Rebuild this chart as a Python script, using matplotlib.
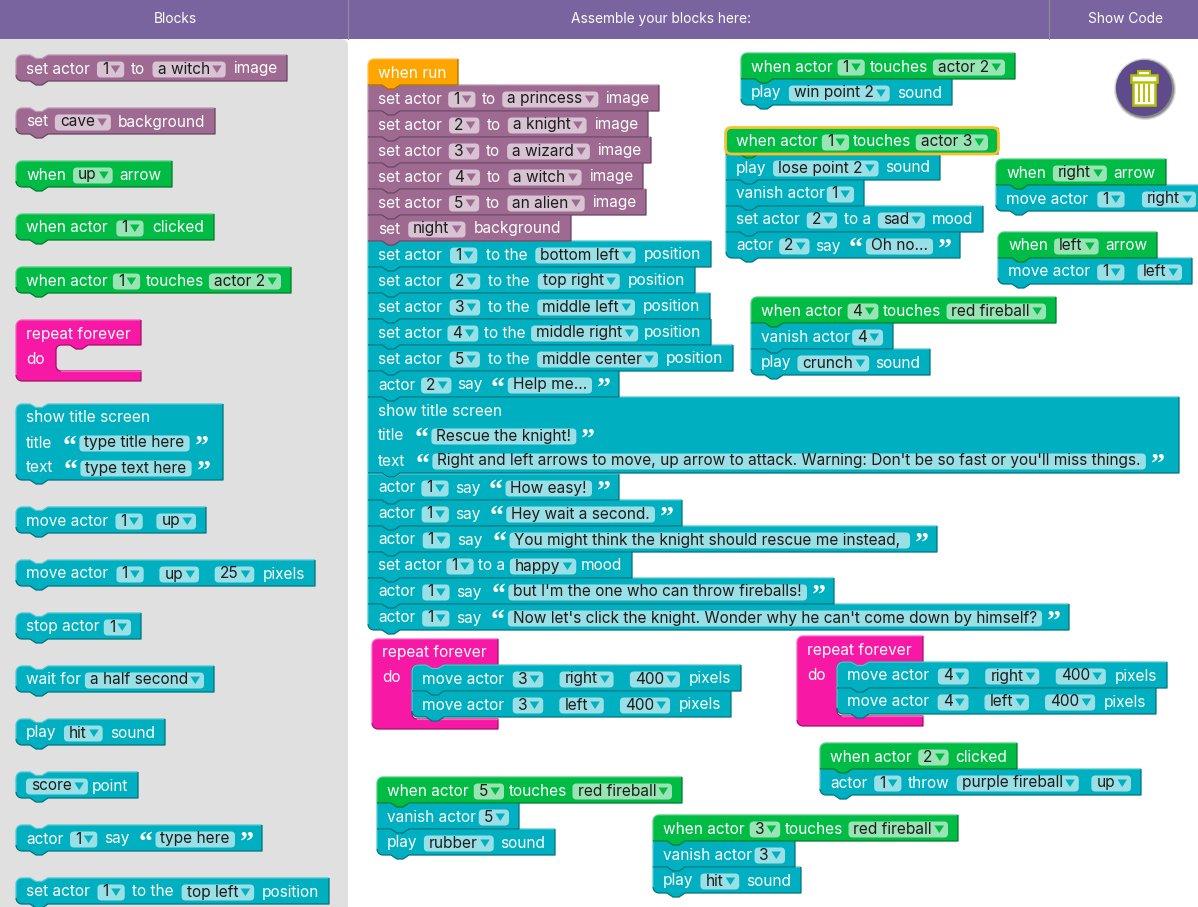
import re
import numpy as np
import matplotlib
matplotlib.use('Agg')
import matplotlib.pyplot as plt
from matplotlib.patches import Polygon, FancyBboxPatch, Circle, Rectangle
from matplotlib.colors import to_rgb

plt.rcParams['font.family'] = ['Inter', 'DejaVu Sans']

# Cores dos blocos
COLORS = {'looks': '#9e6a92', 'motion': '#00b0c0', 'event': '#00bb44',
          'start': '#ffa500', 'loop': '#f719a5'}
HEADER = '#7a649f'
SIDEBAR = '#e0e0e0'
FONT = 11.1

# Cabecalho
header_titles = ['Blocks', 'Assemble your blocks here:', 'Show Code']

# Paleta: {x} = dropdown, <x> = campo de texto
palette_labels = ['set actor {1} to {a witch} image', 'set {cave} background', 'when {up} arrow',
                  'when actor {1} clicked', 'when actor {1} touches {actor 2}']
palette_kinds = ['looks', 'looks', 'event', 'event', 'event']
palette_tops = [55, 108, 161, 214, 267]
palette_rights = [287, 215, 172, 214, 291]

palette2_labels = ['show title screen\ntitle “ <type title here> ”\ntext “ <type text here> ”',
                   'move actor {1} {up}', 'move actor {1} {up} {25} pixels', 'stop actor {1}',
                   'wait for {a half second}', 'play {hit} sound', '{score} point',
                   'actor {1} say “ <type here> ”', 'set actor {1} to the {top left} position']
palette2_tops = [404, 507, 560, 613, 666, 719, 772, 825, 878]
palette2_rights = [223, 206, 315, 141, 214, 165, 138, 262, 329]

# Pilha principal
main_labels = ['when run',
               'set actor {1} to {a princess} image', 'set actor {2} to {a knight} image',
               'set actor {3} to {a wizard} image', 'set actor {4} to {a witch} image',
               'set actor {5} to {an alien} image', 'set {night} background',
               'set actor {1} to the {bottom left} position', 'set actor {2} to the {top right} position',
               'set actor {3} to the {middle left} position', 'set actor {4} to the {middle right} position',
               'set actor {5} to the {middle center} position', 'actor {2} say “ <Help me...> ”',
               'show title screen\ntitle “ <Rescue the knight!> ”\n'
               "text “ <Right and left arrows to move, up arrow to attack. Warning: Don't be so fast or you'll miss things.> ”",
               'actor {1} say “ <How easy!> ”', 'actor {1} say “ <Hey wait a second.> ”',
               'actor {1} say “ <You might think the knight should rescue me instead,\u00a0> ”',
               'set actor {1} to a {happy} mood',
               "actor {1} say “ <but I'm the one who can throw fireballs!> ”",
               "actor {1} say “ <Now let's click the knight. Wonder why he can't come down by himself?> ”"]
main_kinds = ['start'] + ['looks'] * 6 + ['motion'] * 13
main_rights = [458, 659, 648, 651, 643, 646, 571, 711, 695, 710, 711, 733, 619, 1179,
               619, 682, 937, 632, 834, 1069]

# Pilhas pequenas
win_labels = ['when actor {1} touches {actor 2}', 'play {win point 2} sound']
win_rights = [1015, 952]
lose_labels = ['when actor {1} touches {actor 3}', 'play {lose point 2} sound', 'vanish actor {1}',
               'set actor {2} to a {sad} mood', 'actor {2} say “ <Oh no...> ”']
lose_rights = [998, 940, 864, 983, 960]
right_labels = ['when {right} arrow', 'move actor {1} {right}']
right_rights = [1166, 1206]
left_labels = ['when {left} arrow', 'move actor {1} {left}']
left_rights = [1157, 1192]
crunch_labels = ['when actor {4} touches {red fireball}', 'vanish actor {4}', 'play {crunch} sound']
crunch_rights = [1056, 893, 930]
throw_labels = ['when actor {2} clicked', 'actor {1} throw {purple fireball} {up}']
throw_rights = [1017, 1141]
rubber_labels = ['when actor {5} touches {red fireball}', 'vanish actor {5}', 'play {rubber} sound']
rubber_rights = [682, 519, 555]
hit_labels = ['when actor {3} touches {red fireball}', 'vanish actor {3}', 'play {hit} sound']
hit_rights = [958, 795, 801]
loop3_labels = ['move actor {3} {right} {400} pixels', 'move actor {3} {left} {400} pixels']
loop3_rights = [741, 731]
loop4_labels = ['move actor {4} {right} {400} pixels', 'move actor {4} {left} {400} pixels']
loop4_rights = [1167, 1156]

fig = plt.figure(figsize=(11.98, 9.07), dpi=100)
ax = fig.add_axes([0, 0, 1, 1])
ax.set_xlim(0, 1198)
ax.set_ylim(907, 0)
ax.axis('off')
renderer = fig.canvas.get_renderer()


def mix(color, other, t):
    c = np.array(to_rgb(color))
    return tuple(c + (np.array(to_rgb(other)) - c) * t)


def arc(cx, cy, r, a0, a1):
    t = np.deg2rad(np.linspace(a0, a1, 7))
    return list(zip(cx + r * np.cos(t), cy + r * np.sin(t)))


def text_w(s):
    t = ax.text(0, 0, s, fontsize=FONT)
    w = t.get_window_extent(renderer).width
    t.remove()
    return w


def parse(line):
    tokens = re.findall(r'\{.*?\}|<.*?>|[“”]|[^{}<>“”]+', line)
    return [t.strip(' ') for t in tokens if t.strip(' ')]


def is_field(t):
    return t[0] in '{<'


def draw_line(tokens, x, base, slack, color, z):
    widths = []
    for t in tokens:
        if t[0] == '{':
            widths.append(text_w(t[1:-1]) + 21)
        elif t[0] == '<':
            widths.append(text_w(t[1:-1]) + 10)
        elif t in '“”':
            widths.append(12)
        else:
            widths.append(text_w(t))
    # folgas: aspas coladas no campo, dois dropdowns seguidos mais afastados
    gaps, weights = [], []
    for a, b in zip(tokens, tokens[1:]):
        if a == '“' or b == '”':
            gaps.append(5)
            weights.append(0)
        elif b == '“':
            gaps.append(10)
            weights.append(1)
        elif is_field(a) and is_field(b):
            gaps.append(14)
            weights.append(2)
        else:
            gaps.append(7.5)
            weights.append(1)
    if slack is not None and sum(weights) > 0:
        extra = (slack - sum(widths) - sum(gaps)) / sum(weights)
        gaps = [g + extra * k for g, k in zip(gaps, weights)]
    gaps.append(0)
    for t, w, g in zip(tokens, widths, gaps):
        if is_field(t):
            fill = mix(color, 'white', 0.6)
            ax.add_patch(FancyBboxPatch((x, base - 12), w, 16, boxstyle='round,pad=0,rounding_size=4',
                                        mutation_scale=1, fc=fill, lw=0, zorder=z))
            ax.text(x + 5, base, t[1:-1], fontsize=FONT, color='#1c1c1c', zorder=z, va='baseline')
            if t[0] == '{':
                ar = x + w - 13.5
                ax.add_patch(Polygon([(ar, base - 8), (ar + 9.5, base - 8), (ar + 4.75, base - 0.5)],
                                     fc=color, lw=0, zorder=z))
        elif t in '“”':
            ax.text(x, base + 6, t, fontsize=20, fontweight='bold', color='white', zorder=z,
                    family='Liberation Serif', va='baseline')
        else:
            ax.text(x, base, t, fontsize=FONT, color='white', zorder=z, va='baseline')
        x += w + g


def edges(color, top, bottom, z):
    ax.add_patch(Polygon(top + bottom, fc=color, lw=0, zorder=z))
    ax.plot(*zip(*(bottom[-1:] + top)), color=mix(color, 'white', 0.3), lw=0.9, zorder=z,
            solid_capstyle='butt')
    ax.plot(*zip(*(top[-1:] + bottom)), color=mix(color, 'black', 0.35), lw=0.9, zorder=z,
            solid_capstyle='butt')


def draw_block(x, y, r, label, kind, round_top, round_bottom, z):
    color = COLORS[kind]
    lines = label.split('\n')
    b = y + (26 if len(lines) == 1 else 76)
    top = arc(x + 6, y + 6, 6, 180, 270) if round_top else [(x, y)]
    if kind not in ('event', 'start'):
        top += [(x + 14, y), (x + 20, y + 3.5), (x + 26, y + 3.5), (x + 32, y)]
    top.append((r, y))
    bottom = [(r, b), (x + 32, b), (x + 26, b + 4), (x + 20, b + 4), (x + 14, b)]
    bottom += arc(x + 6, b - 6, 6, 90, 180) if round_bottom else [(x, b)]
    edges(color, top, bottom, z)
    for i, line in enumerate(lines):
        slack = r - x - 20 if len(lines) == 1 else None
        draw_line(parse(line), x + 10, y + 18.5 + i * 25, slack, color, z)


def draw_stack(x, y, labels, rights, kinds=None, z=100):
    if kinds is None:
        kinds = ['event'] + ['motion'] * (len(labels) - 1)
    items = []
    cy = y
    for label, r, kind in zip(labels, rights, kinds):
        items.append((label, r, kind, cy))
        cy += 77 if '\n' in label else 26
    n = len(items)
    # de baixo para cima, para a aba do bloco de cima ficar por cima
    for i in range(n - 1, -1, -1):
        label, r, kind, cy = items[i]
        draw_block(x, cy, r, label, kind, i == 0, i == n - 1, z + (n - i) * 2)


def draw_loop(x, y, r_top, mouth_top, mouth_bot, b, z=50):
    color = COLORS['loop']
    mx = x + 40
    top = arc(x + 6, y + 6, 6, 180, 270) + [(r_top, y)]
    bottom = [(r_top, mouth_top), (mx + 32, mouth_top), (mx + 26, mouth_top + 4),
              (mx + 20, mouth_top + 4), (mx + 14, mouth_top)]
    bottom += arc(mx + 5, mouth_top + 5, 5, 270, 180) + arc(mx + 5, mouth_bot - 5, 5, 180, 90)
    bottom += [(r_top, mouth_bot), (r_top, b)] + arc(x + 6, b - 6, 6, 90, 180)
    edges(color, top, bottom, z)
    ax.plot([mx + 5, r_top], [mouth_bot, mouth_bot], color=mix(color, 'white', 0.3), lw=0.9, zorder=z)
    ax.text(x + 10, y + 18.5, 'repeat forever', fontsize=FONT, color='white', zorder=z)
    ax.text(x + 10, y + 43.5, 'do', fontsize=FONT, color='white', zorder=z)


# Fundo, barra lateral e cabecalho
ax.add_patch(Rectangle((0, 39), 1198, 868, fc='white', lw=0, zorder=0))
ax.add_patch(FancyBboxPatch((-20, 39), 368, 900, boxstyle='round,pad=0,rounding_size=7',
                            mutation_scale=1, fc=SIDEBAR, lw=0, zorder=1))
ax.add_patch(Rectangle((0, 0), 1198, 39, fc=HEADER, lw=0, zorder=2))
ax.plot([348.2, 348.2], [0, 39], color='#8f8f96', lw=0.8, zorder=3)
ax.plot([1049.2, 1049.2], [0, 39], color='#8f8f96', lw=0.8, zorder=3)
for s, xc in zip(header_titles, [175, 661, 1125]):
    ax.text(xc, 23, s, fontsize=9.9, color='white', ha='center', zorder=3)

# Paleta
for label, kind, t, r in zip(palette_labels, palette_kinds, palette_tops, palette_rights):
    draw_block(16, t, r, label, kind, True, True, 10)
draw_loop(16, 320, 141, 345, 371, 381, z=10)
for label, t, r in zip(palette2_labels, palette2_tops, palette2_rights):
    draw_block(16, t, r, label, 'motion', True, True, 10)

# Area de trabalho
draw_stack(368, 59, main_labels, main_rights, main_kinds)
draw_stack(741, 53, win_labels, win_rights)
draw_stack(726, 128, lose_labels, lose_rights)
ax.add_patch(FancyBboxPatch((725.5, 127.5), 273, 26.5, boxstyle='round,pad=0,rounding_size=6',
                            mutation_scale=1, fc='none', ec='#fbc02d', lw=2.0, zorder=200))
draw_stack(996, 159, right_labels, right_rights)
draw_stack(998, 232, left_labels, left_rights)
draw_stack(751, 297, crunch_labels, crunch_rights)
draw_stack(820, 743, throw_labels, throw_rights)
draw_stack(377, 777, rubber_labels, rubber_rights)
draw_stack(653, 815, hit_labels, hit_rights)

draw_loop(372, 639, 498, 665, 719, 729)
draw_stack(412, 665, loop3_labels, loop3_rights, ['motion', 'motion'])
draw_loop(797, 636, 923, 662, 716, 726)
draw_stack(837, 662, loop4_labels, loop4_rights, ['motion', 'motion'])

# Lixeira
for rad, alpha in zip([31, 30, 29], [0.12, 0.18, 0.25]):
    ax.add_patch(Circle((1145, 89), rad, fc='black', alpha=alpha, lw=0, zorder=300))
ax.add_patch(Circle((1144, 88), 28, fc='#5f4b8b', lw=0, zorder=301))
can = '#b3c200'
ax.add_patch(Rectangle((1138, 71), 12, 5, fc='white', ec=can, lw=1.4, zorder=302))
ax.add_patch(Rectangle((1133, 81), 22, 24, fc='white', ec=can, lw=1.8, zorder=302))
ax.add_patch(Rectangle((1131, 75), 26, 7, fc='white', ec=can, lw=1.8, zorder=303))
for xs in (1139, 1144, 1149):
    ax.plot([xs, xs], [85, 101], color=can, lw=1.4, zorder=303)

fig.savefig('out.png', dpi=100)
